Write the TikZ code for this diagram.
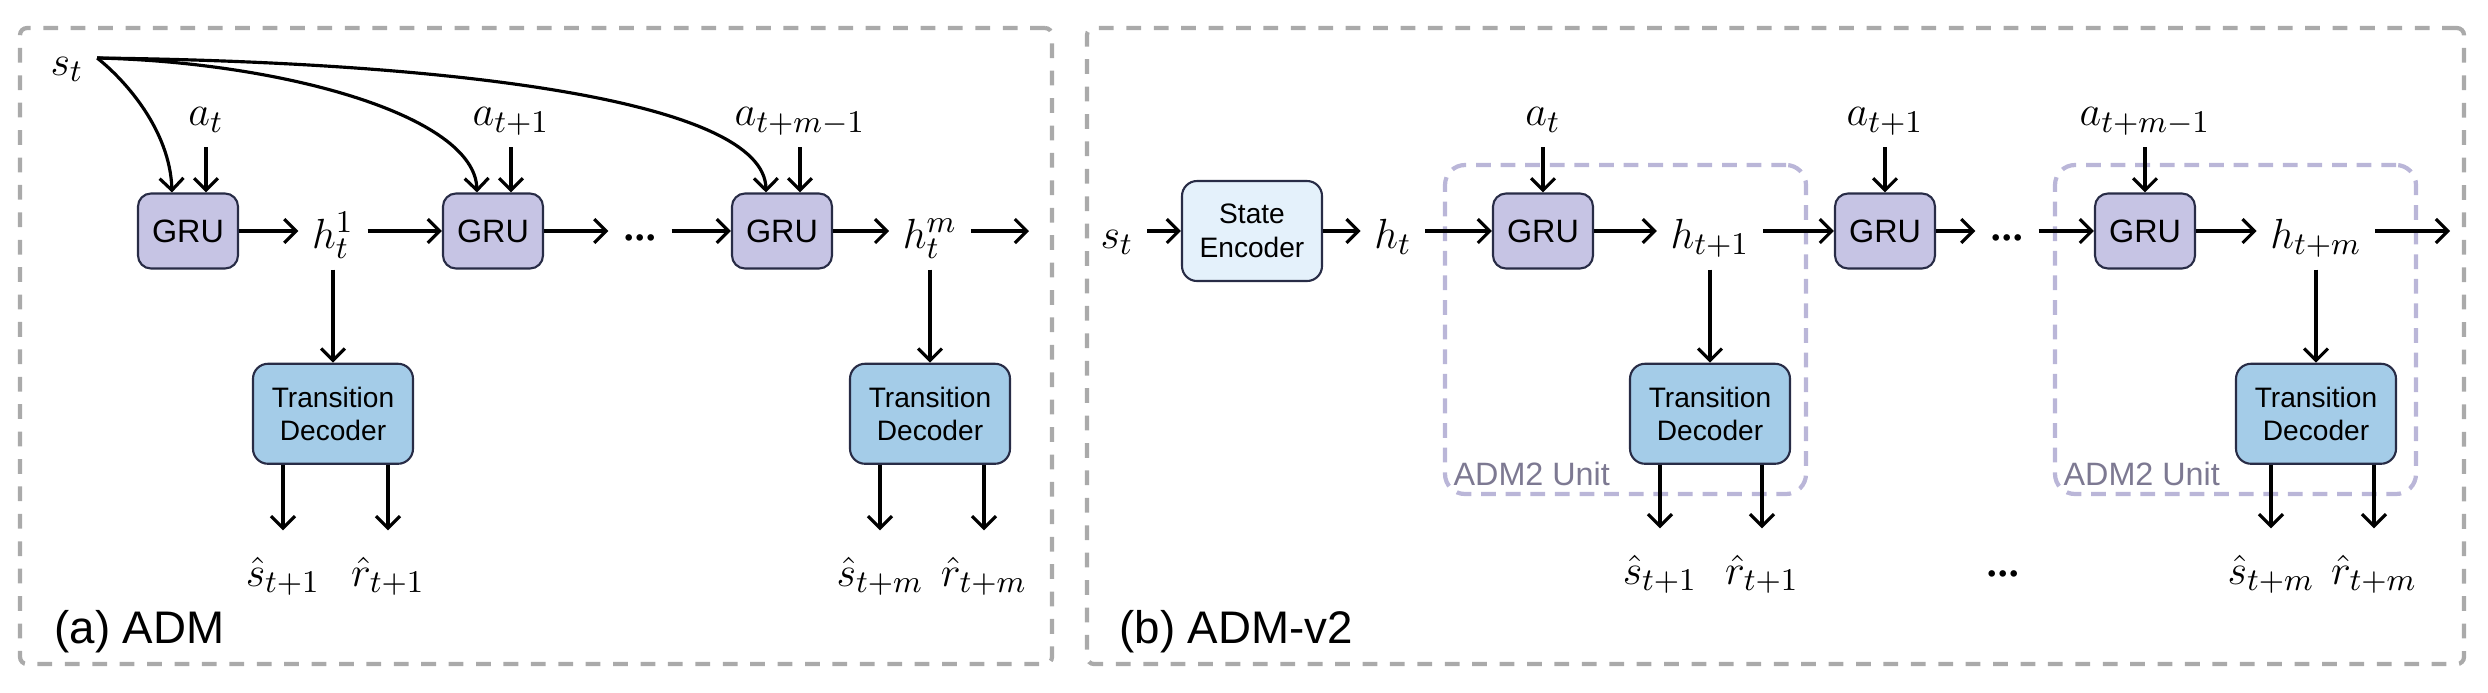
\documentclass[tikz,border=0pt]{standalone}
\usepackage{fontspec}
\setmainfont{Liberation Sans}
\usepackage{amsmath}
\usetikzlibrary{arrows.meta, positioning}

\definecolor{grufill}{RGB}{198,196,228}
\definecolor{decfill}{RGB}{164,204,232}
\definecolor{encfill}{RGB}{228,241,251}
\definecolor{boxline}{RGB}{40,44,70}
\definecolor{panelgray}{RGB}{170,170,170}
\definecolor{unitline}{RGB}{186,182,216}
\definecolor{unittext}{RGB}{125,121,146}

\newcommand{\tightdots}{{\boldsymbol{\cdot}}\mkern-1mu{\boldsymbol{\cdot}}\mkern-1mu{\boldsymbol{\cdot}}}

\begin{document}
\begin{tikzpicture}[
    font=\fontsize{8}{9.5}\selectfont,
    gru/.style={draw=boxline, fill=grufill, rounded corners=0.13cm, minimum width=1.0cm, minimum height=0.75cm, line width=0.6pt, font=\fontsize{9.2}{11}\selectfont},
    decoder/.style={draw=boxline, fill=decfill, rounded corners=0.15cm, minimum width=1.6cm, minimum height=1.0cm, align=center, line width=0.6pt},
    encoder/.style={decoder, fill=encfill, minimum width=1.4cm},
    var/.style={inner xsep=0.13cm, inner ysep=0.09cm, text height=0.46cm, text depth=0.12cm, font=\fontsize{13}{15}\selectfont},
    arrow/.style={-{Straight Barb[length=3.4pt, width=6.8pt]}, line width=0.9pt},
    panel/.style={draw=panelgray, dash pattern=on 4.2pt off 3.6pt, line width=1.2pt, rounded corners=2pt, minimum height=6.36cm},
    unit/.style={draw=unitline, dash pattern=on 4.2pt off 2.8pt, line width=1.2pt, rounded corners=0.2cm, minimum width=3.61cm, minimum height=3.29cm},
    unitlabel/.style={text=unittext, font=\fontsize{9.2}{11}\selectfont, anchor=south west, inner sep=0.1cm},
    title/.style={font=\fontsize{13}{15}\selectfont, anchor=base west}
]
\useasboundingbox (0,0) rectangle (24.88,-6.92);

% Panels
\node[panel, minimum width=10.32cm] (panelA) at (5.36,-3.46) {};
\node[panel, minimum width=13.77cm] (panelB) at (17.755,-3.46) {};
\node[title] (titleA) at (0.42,-6.43) {(a) ADM};
\node[title] (titleB) at (11.07,-6.43) {(b) ADM-v2};

% (a) ADM: main row
\node[var] (st) at (0.67,-0.58) {$s_t$};
\node[gru] (gruA1) at (1.88,-2.31) {GRU};
\node[var] (hA1) at (3.33,-2.31) {$h_t^1$};
\node[gru] (gruA2) at (4.93,-2.31) {GRU};
\node[var] (dotsA) at (6.40,-2.31) {$\tightdots$};
\node[gru] (gruA3) at (7.82,-2.31) {GRU};
\node[var] (hAm) at (9.30,-2.31) {$h_t^m$};
\coordinate (endA) at (10.29,-2.31);

\draw[arrow] (gruA1) -- (hA1);
\draw[arrow] (hA1) -- (gruA2);
\draw[arrow] (gruA2) -- (dotsA);
\draw[arrow] (dotsA) -- (gruA3);
\draw[arrow] (gruA3) -- (hAm);
\draw[arrow] (hAm) -- (endA);

% actions
\node[var, above=0.45cm of gruA1, xshift=0.18cm] (aA1) {$a_t$};
\node[var, above=0.45cm of gruA2, xshift=0.18cm] (aA2) {$a_{t+1}$};
\node[var, above=0.45cm of gruA3, xshift=0.18cm] (aA3) {$a_{t+m-1}$};
\draw[arrow] (aA1) -- (aA1 |- gruA1.north);
\draw[arrow] (aA2) -- (aA2 |- gruA2.north);
\draw[arrow] (aA3) -- (aA3 |- gruA3.north);

% state to every GRU
\draw[arrow] (st.east) .. controls (1.25,-0.80) and (1.70,-1.30) .. ([xshift=-0.16cm]gruA1.north);
\draw[arrow] (st.east) .. controls (2.80,-0.62) and (4.75,-1.15) .. ([xshift=-0.16cm]gruA2.north);
\draw[arrow] (st.east) .. controls (4.50,-0.62) and (7.65,-1.00) .. ([xshift=-0.16cm]gruA3.north);

% decoders
\node[decoder, below=0.93cm of hA1] (decA1) {Transition\\Decoder};
\node[decoder, below=0.93cm of hAm] (decA2) {Transition\\Decoder};
\draw[arrow] (hA1) -- (decA1);
\draw[arrow] (hAm) -- (decA2);

\node[var] (sA1) at (2.83,-5.69) {$\hat{s}_{t+1}$};
\node[var] (rA1) at (3.88,-5.69) {$\hat{r}_{t+1}$};
\node[var] (sAm) at (8.80,-5.69) {$\hat{s}_{t+m}$};
\node[var] (rAm) at (9.84,-5.69) {$\hat{r}_{t+m}$};
\draw[arrow] (decA1.south -| sA1) -- (sA1);
\draw[arrow] (decA1.south -| rA1) -- (rA1);
\draw[arrow] (decA2.south -| sAm) -- (sAm);
\draw[arrow] (decA2.south -| rAm) -- (rAm);

% (b) ADM-v2: units
\node[unit] (unitB1) at (16.255,-3.295) {};
\node[unit] (unitB2) at (22.355,-3.295) {};
\node[unitlabel] (unitlblB1) at (unitB1.south west) {ADM2 Unit};
\node[unitlabel] (unitlblB2) at (unitB2.south west) {ADM2 Unit};

% main row
\node[var] (stB) at (11.17,-2.31) {$s_t$};
\node[encoder] (enc) at (12.52,-2.31) {State\\Encoder};
\node[var] (hB0) at (13.93,-2.31) {$h_t$};
\node[gru] (gruB1) at (15.43,-2.31) {GRU};
\node[var] (hB1) at (17.10,-2.31) {$h_{t+1}$};
\node[gru] (gruB2) at (18.85,-2.31) {GRU};
\node[var] (dotsB) at (20.07,-2.31) {$\tightdots$};
\node[gru] (gruB3) at (21.45,-2.31) {GRU};
\node[var] (hBm) at (23.16,-2.31) {$h_{t+m}$};
\coordinate (endB) at (24.50,-2.31);

\draw[arrow] (stB) -- (enc);
\draw[arrow] (enc) -- (hB0);
\draw[arrow] (hB0) -- (gruB1);
\draw[arrow] (gruB1) -- (hB1);
\draw[arrow] (hB1) -- (gruB2);
\draw[arrow] (gruB2) -- (dotsB);
\draw[arrow] (dotsB) -- (gruB3);
\draw[arrow] (gruB3) -- (hBm);
\draw[arrow] (hBm) -- (endB);

% actions
\node[var, above=0.45cm of gruB1] (aB1) {$a_t$};
\node[var, above=0.45cm of gruB2] (aB2) {$a_{t+1}$};
\node[var, above=0.45cm of gruB3] (aB3) {$a_{t+m-1}$};
\draw[arrow] (aB1) -- (gruB1);
\draw[arrow] (aB2) -- (gruB2);
\draw[arrow] (aB3) -- (gruB3);

% decoders
\node[decoder, below=0.93cm of hB1] (decB1) {Transition\\Decoder};
\node[decoder, below=0.93cm of hBm] (decB2) {Transition\\Decoder};
\draw[arrow] (hB1) -- (decB1);
\draw[arrow] (hBm) -- (decB2);

\node[var] (sB1) at (16.60,-5.67) {$\hat{s}_{t+1}$};
\node[var] (rB1) at (17.62,-5.67) {$\hat{r}_{t+1}$};
\node[var] (dotsB2) at (20.03,-5.67) {$\tightdots$};
\node[var] (sBm) at (22.71,-5.67) {$\hat{s}_{t+m}$};
\node[var] (rBm) at (23.74,-5.67) {$\hat{r}_{t+m}$};
\draw[arrow] (decB1.south -| sB1) -- (sB1);
\draw[arrow] (decB1.south -| rB1) -- (rB1);
\draw[arrow] (decB2.south -| sBm) -- (sBm);
\draw[arrow] (decB2.south -| rBm) -- (rBm);
\end{tikzpicture}
\end{document}
